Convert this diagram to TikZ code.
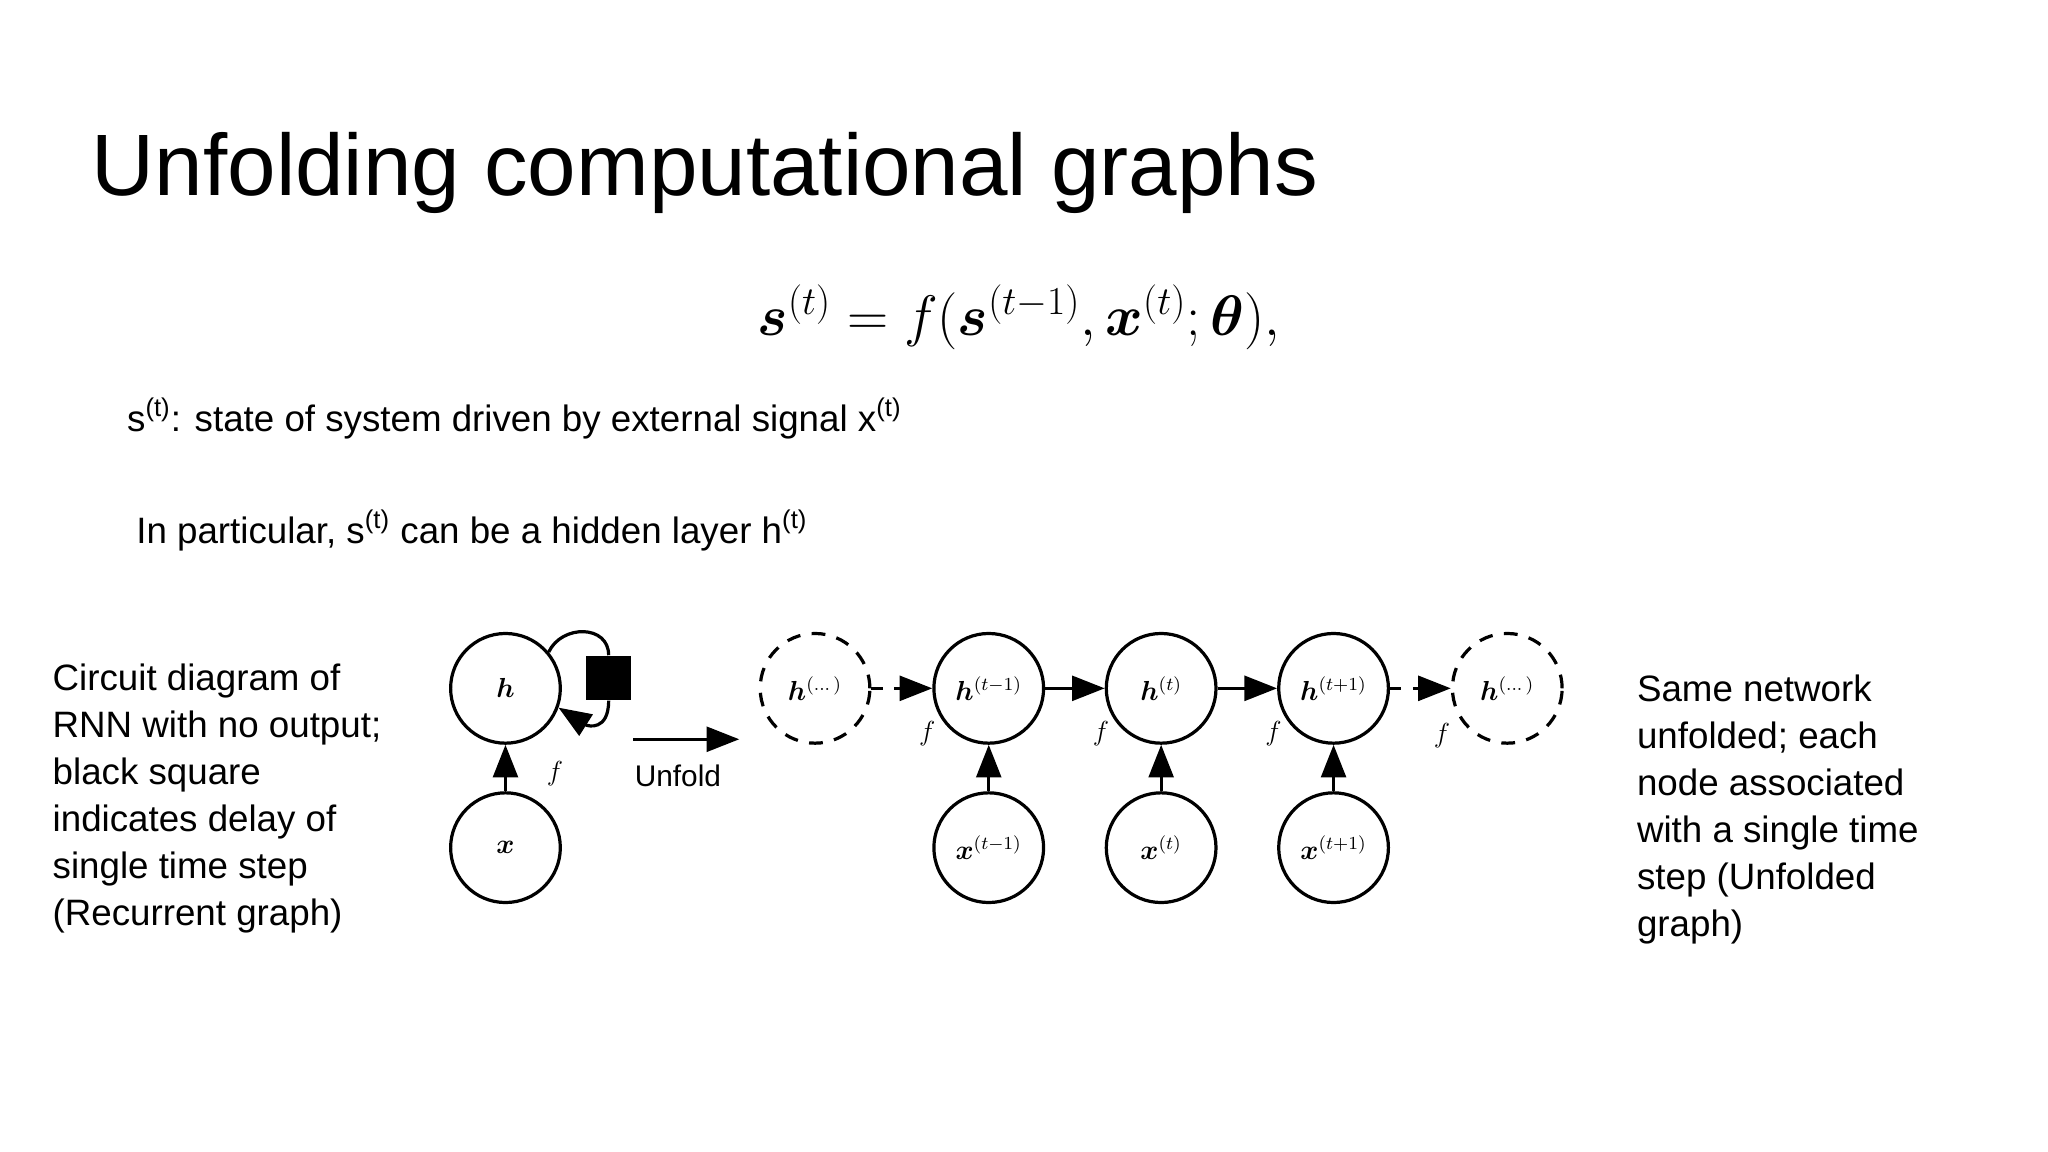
\documentclass[tikz,border=0pt]{standalone}
\usepackage{amsmath,bm}
\usepackage{fontspec}
\setmainfont{Liberation Sans}
\usetikzlibrary{arrows.meta}
\begin{document}
\begin{tikzpicture}[x=0.02cm,y=-0.02cm,
  nd/.style={circle,draw,line width=1.4pt,minimum size=1.68cm,inner sep=0pt,font=\fontsize{12}{14}\selectfont},
  dnd/.style={nd,dashed,dash pattern=on 6pt off 5pt},
  arr/.style={line width=1.4pt,-{Triangle[length=0.5cm,width=0.38cm]}},
  darr/.style={arr,dash pattern=on 5pt off 5pt},
  fl/.style={font=\fontsize{12}{14}\selectfont},
  body/.style={font=\fontsize{16}{20.5}\selectfont,align=left,inner sep=0pt}]
\useasboundingbox (0,0) rectangle (1568,882);
\node[anchor=base west,inner sep=0pt,font=\fontsize{38}{44}\selectfont] (title) at (70,150) {Unfolding computational graphs};
\node[inner sep=0pt] (eq) at (780,243) {\fontsize{26}{30}\selectfont$\bm{s}^{(t)}=f(\bm{s}^{(t-1)},\bm{x}^{(t)};\bm{\theta}),$};
\node[body,anchor=base west] (l1) at (97,330) {s\textsuperscript{(t)}: state of system driven by external signal x\textsuperscript{(t)}};
\node[body,anchor=base west] (l2) at (104,416) {In particular, s\textsuperscript{(t)} can be a hidden layer h\textsuperscript{(t)}};
\node[body,anchor=north west] (left) at (40,508) {Circuit diagram of\\RNN with no output;\\black square\\indicates delay of\\single time step\\(Recurrent graph)};
\node[body,anchor=north west] (right) at (1253,516) {Same network\\unfolded; each\\node associated\\with a single time\\step (Unfolded\\graph)};
% recurrent graph
\node[nd] (h) at (387,527) {$\bm{h}$};
\node[nd] (x) at (387,649) {$\bm{x}$};
\node[fill=black,minimum size=0.68cm,inner sep=0pt] (sq) at (466,519) {};
\draw[line width=1.4pt] (h.40) .. controls (430,478) and (466,478) .. (sq.north);
\draw[arr] (sq.south) .. controls (466,560) and (450,556) .. (h.-20);
\draw[arr] (x) -- (h);
\node[fl] (f0) at (425,592) {$f$};
\coordinate (u1) at (485,566); \coordinate (u2) at (566,566);
\draw[arr] (u1) -- (u2);
\node[fl,font=\fontsize{13}{15}\selectfont\rmfamily] (unf) at (519,594) {Unfold};
% unfolded
\node[dnd] (hd1) at (624,527) {$\bm{h}^{(\dots)}$};
\node[nd] (h1) at (757,527) {$\bm{h}^{(t-1)}$};
\node[nd] (h2) at (889,527) {$\bm{h}^{(t)}$};
\node[nd] (h3) at (1021,527) {$\bm{h}^{(t+1)}$};
\node[dnd] (hd2) at (1154,527) {$\bm{h}^{(\dots)}$};
\node[nd] (x1) at (757,649) {$\bm{x}^{(t-1)}$};
\node[nd] (x2) at (889,649) {$\bm{x}^{(t)}$};
\node[nd] (x3) at (1021,649) {$\bm{x}^{(t+1)}$};
\draw[darr] (hd1) -- (h1);
\draw[arr] (h1) -- (h2);
\draw[arr] (h2) -- (h3);
\draw[darr] (h3) -- (hd2);
\draw[arr] (x1) -- (h1);
\draw[arr] (x2) -- (h2);
\draw[arr] (x3) -- (h3);
\node[fl] (f1) at (710,562) {$f$};
\node[fl] (f2) at (843,562) {$f$};
\node[fl] (f3) at (975,562) {$f$};
\node[fl] (f4) at (1104,563) {$f$};
\end{tikzpicture}
\end{document}
